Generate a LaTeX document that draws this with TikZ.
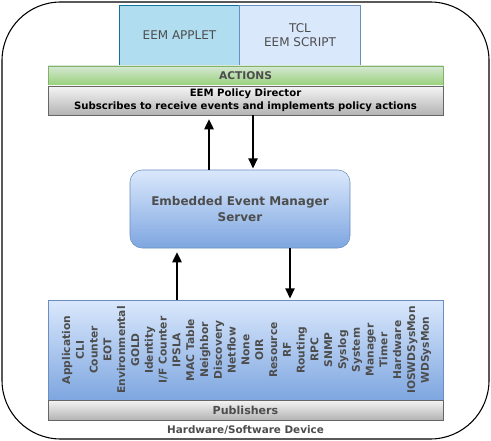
\documentclass[tikz,border=0pt]{standalone}
\usepackage{fontspec}
\setmainfont{DejaVu Sans}
\usetikzlibrary{arrows.meta}
\definecolor{appletfill}{HTML}{B1DDF0}
\definecolor{appletline}{HTML}{10739E}
\definecolor{tclfill}{HTML}{DAE8FC}
\definecolor{tclline}{HTML}{6C8EBF}
\definecolor{greentop}{HTML}{D5E8D4}
\definecolor{greenbot}{HTML}{97D077}
\definecolor{greenline}{HTML}{82B366}
\definecolor{graytop}{HTML}{F5F5F5}
\definecolor{graybot}{HTML}{B3B3B3}
\definecolor{grayline}{HTML}{666666}
\definecolor{bluebot}{HTML}{7EA6E0}
\definecolor{txt}{HTML}{4D4D4D}
\tikzset{%
    bar/.style={minimum width=296.25pt,inner sep=0pt,text=txt,font=\bfseries\fontsize{8}{9.5}\selectfont}
}

\begin{document}
\begin{tikzpicture}[x=0.75pt,y=-0.75pt,
        topbox/.style={draw,minimum width=90.5pt,minimum height=45pt,inner sep=0pt,
            align=center,text=txt,font=\fontsize{9}{11}\selectfont},
        grayband/.style={bar,draw=grayline,top color=graytop,bottom color=graybot},
        arr/.style={line width=1.1pt,-{Triangle[width=7pt,length=7.5pt]}}
        ]
        \useasboundingbox (0,0) rectangle (491,441);
        \draw[line width=0.8pt,rounded corners=44pt] (2,2) rectangle (489,439);

        \node[topbox,fill=appletfill,draw=appletline] (applet) at (179.5,35) {EEM APPLET};
        \node[topbox,fill=tclfill,draw=tclline] (tcl) at (300,35) {TCL\\EEM SCRIPT};

        \node[bar,draw=greenline,top color=greentop,bottom color=greenbot,
            minimum height=15pt] (actions) at (245.5,76) {ACTIONS};
        \node[grayband,minimum height=21.75pt,align=center,text=black,
            font=\bfseries\fontsize{7.6}{9.5}\selectfont] (director) at (245.5,100.5)
            {EEM Policy Director\\Subscribes to receive events and implements policy actions};

        \node[draw=tclline,top color=tclfill,bottom color=bluebot,rounded corners=9pt,
            minimum width=165pt,minimum height=58.5pt,align=center,text=txt,
            font=\bfseries\fontsize{9}{12.5}\selectfont] (server) at (240,209)
            {Embedded Event Manager\\Server};

        \node[draw=tclline,top color=tclfill,bottom color=bluebot,
            minimum width=296.25pt,minimum height=75pt,inner sep=0pt] (pubarea) at (245.5,350) {};
        \node[rotate=90,align=center,text=txt,font=\bfseries\fontsize{8}{10.35}\selectfont]
            (events) at (246.5,350) {Application\\CLI\\Counter\\EOT\\Environmental\\GOLD\\Identity\\
            I/F Counter\\IPSLA\\MAC Table\\Neighbor\\Discovery\\Netflow\\None\\OIR\\Resource\\RF\\
            Routing\\RPC\\SNMP\\Syslog\\System\\Manager\\Timer\\Hardware\\IOSWDSysMon\\WDSysMon};
        \node[grayband,minimum height=15pt,font=\bfseries\fontsize{8.3}{9.5}\selectfont]
            (publishers) at (245.5,410) {Publishers};
        \node[text=txt,font=\bfseries\fontsize{7.8}{9}\selectfont] (device) at (245.5,430)
            {Hardware/Software Device};

        \coordinate (up1) at ([xshift=-23.25pt]server.north);
        \coordinate (dn1) at ([xshift=9.75pt]server.north);
        \coordinate (up2) at ([xshift=-47.25pt]server.south);
        \coordinate (dn2) at ([xshift=37.5pt]server.south);
        \draw[arr] (up1) -- ([yshift=-3pt]up1 |- director.south);
        \draw[arr] (dn1 |- director.south) -- ([yshift=1pt]dn1);
        \draw[arr] (up2 |- pubarea.north) -- ([yshift=-3pt]up2);
        \draw[arr] (dn2) -- ([yshift=1pt]dn2 |- pubarea.north);
    \end{tikzpicture}
\end{document}
